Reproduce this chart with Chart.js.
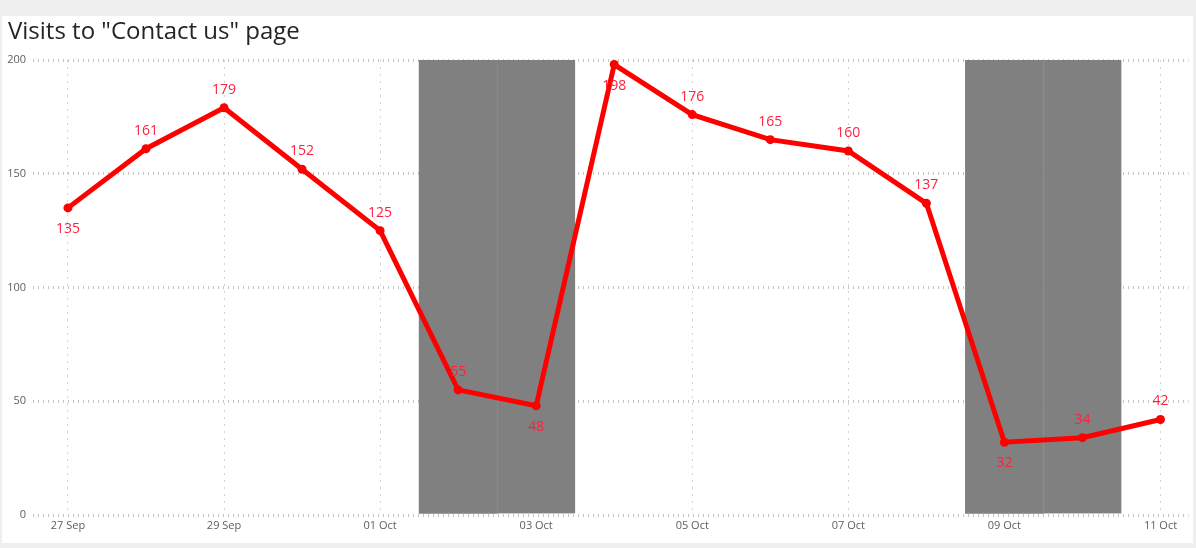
<!DOCTYPE html>
<html>
<head>
<meta charset="utf-8">
<script src="https://cdn.jsdelivr.net/npm/chart.js@4"></script>
<style>
  html, body { margin: 0; padding: 0; background: #efefef; }
  #panel { position: absolute; left: 2px; top: 16px; width: 1191px; height: 527px; background: #fff; }
  #title { position: absolute; left: 6px; top: -3px; font: 24px 'Open Sans', sans-serif; color: #252423; z-index: 2; white-space: nowrap; }
  #wrap { position: absolute; left: 0; top: 0; width: 1191px; height: 527px; }
</style>
</head>
<body>
<div id="panel">
  <div id="title">Visits to "Contact us" page</div>
  <div id="wrap"><canvas id="chart-visits"></canvas></div>
</div>
<script>
var days = ["27 Sep", "28 Sep", "29 Sep", "30 Sep", "01 Oct", "02 Oct", "03 Oct", "04 Oct",
            "05 Oct", "06 Oct", "07 Oct", "08 Oct", "09 Oct", "10 Oct", "11 Oct"];
var visits = [135, 161, 179, 152, 125, 55, 48, 198, 176, 165, 160, 137, 32, 34, 42];
// weekend shading, drawn as full height bars
var weekend = [null, null, null, null, null, 200, 200, null, null, null, null, null, 200, 200, null];
var yTicks = [0, 50, 100, 150, 200];

// label goes under the point at local minima and near the top of the axis
function labelBelow(i) {
  var v = visits[i];
  if (v > 190) return true;
  var prev = i > 0 ? visits[i - 1] : Infinity;
  var next = i < visits.length - 1 ? visits[i + 1] : Infinity;
  return v < prev && v < next;
}

var pointLabels = {
  id: "pointLabels",
  afterDatasetsDraw: function(chart) {
    var ctx = chart.ctx;
    var meta = chart.getDatasetMeta(0);
    ctx.save();
    ctx.font = "14px 'Open Sans', sans-serif";
    ctx.fillStyle = "#ff1f3d";
    ctx.textAlign = "center";
    ctx.textBaseline = "middle";
    meta.data.forEach(function(pt, i) {
      var dy = labelBelow(i) ? 21 : -18;
      ctx.fillText(String(visits[i]), pt.x, pt.y + dy);
    });
    ctx.restore();
  }
};

var ctx = document.getElementById("chart-visits").getContext("2d");

new Chart(ctx, {
  type: "bar",
  data: {
    datasets: [{
      type: "line",
      label: "Visits",
      data: visits.map(function(v, i) { return { x: i, y: v }; }),
      borderColor: "#ff0000",
      backgroundColor: "#ff0000",
      borderWidth: 5,
      pointRadius: 4.5,
      pointBorderWidth: 0,
      pointBackgroundColor: "#ff0000",
      tension: 0,
      fill: false
    }, {
      type: "bar",
      label: "Weekend",
      data: weekend.map(function(v, i) { return { x: i, y: v }; }),
      backgroundColor: "#808080",
      borderColor: "#8b8b8b",
      // thin seam between two neighbouring weekend days
      borderWidth: function(c) {
        var i = c.dataIndex;
        return (i > 0 && weekend[i - 1] !== null) ? { left: 1, right: 0, top: 0, bottom: 0 } : 0;
      },
      barPercentage: 1,
      categoryPercentage: 1
    }]
  },
  options: {
    responsive: true,
    maintainAspectRatio: false,
    animation: false,
    layout: { padding: { top: 44, right: 3, left: 0, bottom: 0 } },
    plugins: {
      legend: { display: false },
      tooltip: { enabled: false }
    },
    scales: {
      x: {
        type: "linear",
        offset: false,
        min: -0.448,
        max: 14.359,
        afterBuildTicks: function(scale) {
          scale.ticks = days.map(function(d, i) { return { value: i }; })
                            .filter(function(t) { return t.value % 2 === 0; });
        },
        afterFit: function(scale) {
          scale.height = 28;
          scale.paddingLeft = 0;
          scale.paddingRight = 0;
        },
        grid: {
          offset: false,
          drawTicks: false,
          color: "#d4d4d4",
          lineWidth: 1
        },
        border: { display: false, dash: [2, 5] },
        ticks: {
          color: "#605e5c",
          padding: 4,
          maxRotation: 0,
          autoSkip: false,
          font: { family: "'Open Sans', sans-serif", size: 11 },
          callback: function(value) { return days[value]; }
        }
      },
      y: {
        min: 0,
        max: 200,
        afterBuildTicks: function(scale) {
          scale.ticks = yTicks.map(function(v) { return { value: v }; });
        },
        afterFit: function(scale) { scale.width = 31; },
        grid: {
          drawTicks: false,
          color: "#c4c4c4",
          lineWidth: 3
        },
        border: { display: false, dash: [1, 4] },
        ticks: {
          color: "#605e5c",
          padding: 7,
          font: { family: "'Open Sans', sans-serif", size: 11 }
        }
      }
    }
  },
  plugins: [pointLabels]
});
</script>
</body>
</html>
